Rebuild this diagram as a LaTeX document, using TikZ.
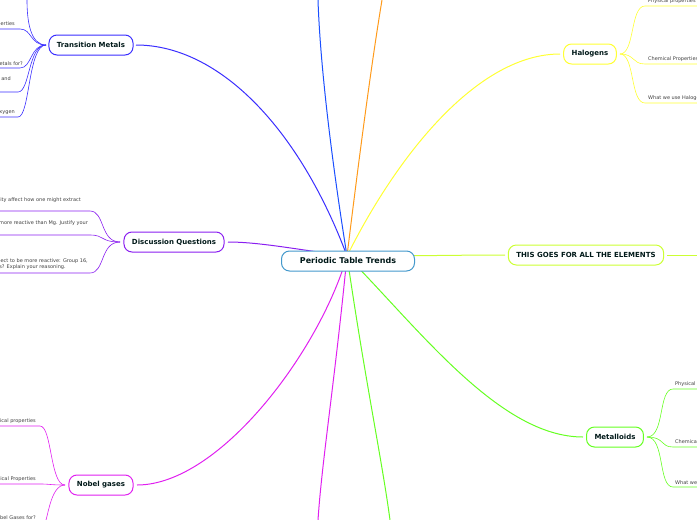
\documentclass[tikz,border=0pt]{standalone}
\usepackage{fontspec}
\setmainfont{DejaVu Sans}
\begin{document}
\begin{tikzpicture}[x=1pt,y=-1pt,
 topic/.style={draw=#1,line width=1pt,rounded corners=8pt,fill=white,minimum height=20pt,inner xsep=8pt,font=\fontsize{7}{8}\selectfont\bfseries,text=black!60!teal!50!black},
 leaf/.style={font=\fontsize{5}{6}\selectfont,text=black!75,inner sep=1pt},
 br/.style={draw=#1,line width=1pt},
 lf/.style={draw=#1,line width=0.6pt}]
\useasboundingbox (0,0) rectangle (697,520);
\clip (0,0) rectangle (697,520);
\definecolor{cblue}{HTML}{1A4FFF}\definecolor{ctm}{HTML}{3A2EFF}
\definecolor{corange}{HTML}{FF9A1A}\definecolor{cyel}{HTML}{FFFF33}
\definecolor{cyg}{HTML}{CCFF33}\definecolor{cgreen}{HTML}{66FF22}
\definecolor{cmag}{HTML}{E020F0}\definecolor{cpur}{HTML}{8A1EF0}
\definecolor{ccen}{HTML}{4499CC}
% coordinates
\coordinate (c) at (347,256);
\coordinate (tb) at (318,0); \coordinate (to) at (382,0);
\coordinate (bb) at (318,520); \coordinate (bg) at (390,520);
\coordinate (er) at (697,255);
% main branches
\draw[br=cblue] (c) .. controls (330,150) and (320,60) .. (tb);
\draw[br=corange] (c) .. controls (360,150) and (372,60) .. (to);
\draw[br=cmag] (c) .. controls (335,380) and (322,460) .. (bb);
\draw[br=cgreen] (c) .. controls (365,380) and (382,460) .. (bg);
\draw[br=ctm] (c) .. controls (300,130) and (220,45) .. (136,45);
\draw[br=cpur] (c) .. controls (300,250) and (260,242) .. (228,242);
\draw[br=cmag] (c) .. controls (320,350) and (220,485) .. (137,485);
\draw[br=cyel] (c) .. controls (400,150) and (480,54) .. (560,54);
\draw[br=cyg] (c) .. controls (420,256) and (460,255) .. (505,255);
\draw[br=cgreen] (c) .. controls (420,330) and (500,437) .. (583,437);
\draw[br=cyg] (667,255) -- (er);
% topic nodes
\node[topic=ccen,minimum width=133pt] (center) at (348,261) {\fontsize{8}{9}\selectfont Periodic Table Trends};
\node[topic=ctm] (tm) at (91,45) {Transition Metals};
\node[topic=cpur] (dq) at (174,242) {Discussion Questions};
\node[topic=cmag] (ng) at (101,485) {Nobel gases};
\node[topic=cyel] (ha) at (590,54) {Halogens};
\node[topic=cyg] (all) at (586,255) {THIS GOES FOR ALL THE ELEMENTS};
\node[topic=cgreen] (me) at (615,437) {Metalloids};
% transition leaves
\draw[lf=ctm] (46,45) .. controls (30,45) and (27,20) .. (27,0);
\draw[lf=ctm] (46,45) .. controls (30,45) and (32,29) .. (20,29) -- (0,29);
\draw[lf=ctm] (46,45) .. controls (30,45) and (32,68) .. (20,68) -- (0,68);
\draw[lf=ctm] (46,45) .. controls (28,45) and (30,92) .. (18,92) -- (0,92);
\draw[lf=ctm] (46,45) .. controls (28,45) and (30,117) .. (18,117) -- (0,117);
\node[leaf,anchor=south east] (t1) at (16,28) {Physical Properties};
\node[leaf,anchor=south east] (t2) at (24,67) {What we use Transition Metals for?};
\node[leaf,anchor=south east] (t3) at (12,82) {Reactions with water and};
\node[leaf,anchor=south east] (t4) at (16,116) {Reactions with oxygen};
% discussion leaves
\draw[lf=cpur] (120,242) .. controls (100,242) and (105,211) .. (90,211) -- (0,211);
\draw[lf=cpur] (120,242) .. controls (100,242) and (105,235) .. (90,235) -- (0,235);
\draw[lf=cpur] (120,242) .. controls (100,242) and (105,273) .. (90,273) -- (0,273);
\node[leaf,anchor=south east,align=left] (d1) at (82,204) {How does reactivity affect how one might extract};
\node[leaf,anchor=south east] (d2) at (89,227) {Predict which is more reactive than Mg. Justify your};
\node[leaf,anchor=south east,align=left] (d3) at (89,271) {Which would you expect to be more reactive: Group 16,\\or Group 17 elements? Explain your reasoning.};
% nobel leaves
\draw[lf=cmag] (65,485) .. controls (50,485) and (52,426) .. (40,426) -- (0,426);
\draw[lf=cmag] (65,485) .. controls (50,485) and (50,484) .. (40,484) -- (0,484);
\draw[lf=cmag] (65,485) .. controls (50,485) and (48,520) .. (44,525);
\node[leaf,anchor=south east] (n1) at (37,425) {Physical properties};
\node[leaf,anchor=south east] (n2) at (37,483) {Chemical Properties};
\node[leaf,anchor=south east] (n3) at (37,521) {What we use Nobel Gases for?};
% halogen leaves
\draw[lf=cyel] (620,54) .. controls (635,54) and (630,6) .. (645,6) -- (697,6);
\draw[lf=cyel] (620,54) .. controls (635,54) and (632,64) .. (645,64) -- (697,64);
\draw[lf=cyel] (620,54) .. controls (635,54) and (630,103) .. (645,103) -- (697,103);
\node[leaf,anchor=south west] (h1) at (647,5) {Physical properties};
\node[leaf,anchor=south west] (h2) at (647,63) {Chemical Properties};
\node[leaf,anchor=south west] (h3) at (647,102) {What we use Halogens for?};
% metalloid leaves
\draw[lf=cgreen] (647,437) .. controls (665,437) and (658,389) .. (673,389) -- (697,389);
\draw[lf=cgreen] (647,437) .. controls (665,437) and (660,447) .. (673,447) -- (697,447);
\draw[lf=cgreen] (647,437) .. controls (665,437) and (658,487) .. (673,487) -- (697,487);
\node[leaf,anchor=south west] (m1) at (674,388) {Physical properties};
\node[leaf,anchor=south west] (m2) at (674,446) {Chemical Properties};
\node[leaf,anchor=south west] (m3) at (674,486) {What we use Metalloids for?};
\end{tikzpicture}
\end{document}
